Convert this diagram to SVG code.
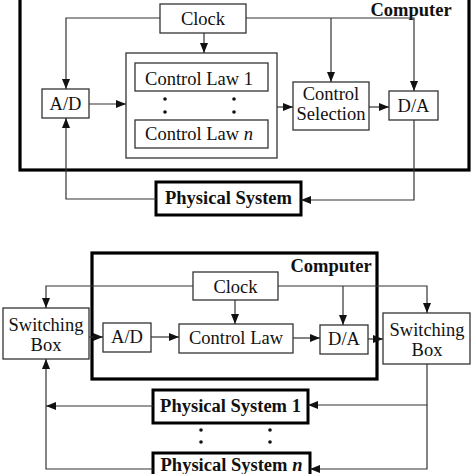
<svg xmlns="http://www.w3.org/2000/svg" width="474" height="474" viewBox="0 0 474 474">
<defs>
<style>
.t{font-family:"Liberation Serif","Times New Roman",serif;font-size:18.5px;fill:#111;text-anchor:middle}
.b{font-weight:bold}
.box{fill:#fff;stroke:#333;stroke-width:1.3}
.thick{fill:#fff;stroke:#000;stroke-width:3}
.frame{fill:none;stroke:#000;stroke-width:3.2}
.ln{fill:none;stroke:#333;stroke-width:1.2}
.dot{fill:#111}
</style>
<marker id="ah" viewBox="0 0 10 8" refX="10" refY="4" markerWidth="10" markerHeight="8" markerUnits="userSpaceOnUse" orient="auto">
<path d="M0,0 L10,4 L0,8 Z" fill="#111"/>
</marker>
</defs>
<rect width="474" height="474" fill="#fff"/>

<!-- Top diagram -->
<g id="computer1">
<rect class="frame" x="20" y="-4" width="449" height="174"/>
<text class="t b" x="411" y="16">Computer</text>
</g>
<g id="clock1">
<rect class="box" x="160" y="4" width="86" height="29"/>
<text class="t" x="203" y="25">Clock</text>
</g>
<g id="ad1">
<rect class="box" x="42" y="89" width="47" height="29"/>
<text class="t" x="65.5" y="110">A/D</text>
</g>
<g id="laws">
<rect class="box" x="126" y="53" width="151" height="105"/>
<rect class="box" x="135" y="63" width="133" height="28"/>
<text class="t" x="199" y="85">Control Law 1</text>
<circle class="dot" cx="165" cy="99" r="1.8"/><circle class="dot" cx="165" cy="112" r="1.8"/>
<circle class="dot" cx="234" cy="99" r="1.8"/><circle class="dot" cx="234" cy="112" r="1.8"/>
<rect class="box" x="135" y="120" width="133" height="28"/>
<text class="t" x="199" y="140">Control Law <tspan font-style="italic">n</tspan></text>
</g>
<g id="select">
<rect class="box" x="293" y="82" width="76" height="48"/>
<text class="t" x="331" y="100">Control</text>
<text class="t" x="331" y="120">Selection</text>
</g>
<g id="da1">
<rect class="box" x="389" y="91" width="49" height="29"/>
<text class="t" x="413.5" y="112">D/A</text>
</g>
<g id="phys">
<rect class="thick" x="156" y="182" width="145" height="33"/>
<text class="t b" x="228.5" y="204">Physical System</text>
</g>

<!-- Bottom diagram -->
<g id="computer2">
<rect class="frame" x="92" y="253" width="285" height="126"/>
<text class="t b" x="331" y="272">Computer</text>
</g>
<g id="clock2">
<rect class="box" x="193" y="272" width="85" height="28"/>
<text class="t" x="235.5" y="293">Clock</text>
</g>
<g id="sw1">
<rect class="box" x="3" y="308" width="86" height="51"/>
<text class="t" x="46" y="331">Switching</text>
<text class="t" x="46" y="351">Box</text>
</g>
<g id="ad2">
<rect class="box" x="103" y="323" width="48" height="29"/>
<text class="t" x="127" y="343">A/D</text>
</g>
<g id="law2">
<rect class="box" x="179" y="324" width="114" height="29"/>
<text class="t" x="236" y="344">Control Law</text>
</g>
<g id="da2">
<rect class="box" x="320" y="325" width="48" height="29"/>
<text class="t" x="344" y="345">D/A</text>
</g>
<g id="sw2">
<rect class="box" x="383" y="313" width="87" height="51"/>
<text class="t" x="427" y="336">Switching</text>
<text class="t" x="427" y="356">Box</text>
</g>
<g id="ps1">
<rect class="thick" x="153" y="390" width="155" height="33"/>
<text class="t b" x="230.5" y="412">Physical System 1</text>
</g>
<g id="dots2">
<circle class="dot" cx="201" cy="430" r="1.8"/><circle class="dot" cx="201" cy="442" r="1.8"/>
<circle class="dot" cx="270" cy="430" r="1.8"/><circle class="dot" cx="270" cy="442" r="1.8"/>
</g>
<g id="psn">
<rect class="thick" x="153" y="453" width="157" height="33"/>
<text class="t b" x="231.5" y="471">Physical System <tspan font-style="italic">n</tspan></text>
</g>

<g id="connectors">
<!-- top -->
<path class="ln" d="M160,18 H66 V89" marker-end="url(#ah)"/>
<path class="ln" d="M204,33 V53" marker-end="url(#ah)"/>
<path class="ln" d="M246,18 H414 V91" marker-end="url(#ah)"/>
<path class="ln" d="M331,18 V82" marker-end="url(#ah)"/>
<path class="ln" d="M89,104 H126" marker-end="url(#ah)"/>
<path class="ln" d="M277,107 H293" marker-end="url(#ah)"/>
<path class="ln" d="M369,107 H389" marker-end="url(#ah)"/>
<path class="ln" d="M414,120 V200 H301" marker-end="url(#ah)"/>
<path class="ln" d="M156,199 H66 V118" marker-end="url(#ah)"/>
<!-- bottom -->
<path class="ln" d="M193,286 H46 V308" marker-end="url(#ah)"/>
<path class="ln" d="M278,286 H427 V313" marker-end="url(#ah)"/>
<path class="ln" d="M343,286 V325" marker-end="url(#ah)"/>
<path class="ln" d="M235,300 V324" marker-end="url(#ah)"/>
<path class="ln" d="M89,337 H103" marker-end="url(#ah)"/>
<path class="ln" d="M151,337 H179" marker-end="url(#ah)"/>
<path class="ln" d="M293,338 H320" marker-end="url(#ah)"/>
<path class="ln" d="M368,339 H383" marker-end="url(#ah)"/>
<path class="ln" d="M427,364 V405 H308" marker-end="url(#ah)"/>
<path class="ln" d="M427,405 V469 H310" marker-end="url(#ah)"/>
<path class="ln" d="M153,406 H46" marker-end="url(#ah)"/>
<path class="ln" d="M153,469 H46 V359" marker-end="url(#ah)"/>
</g>
</svg>
